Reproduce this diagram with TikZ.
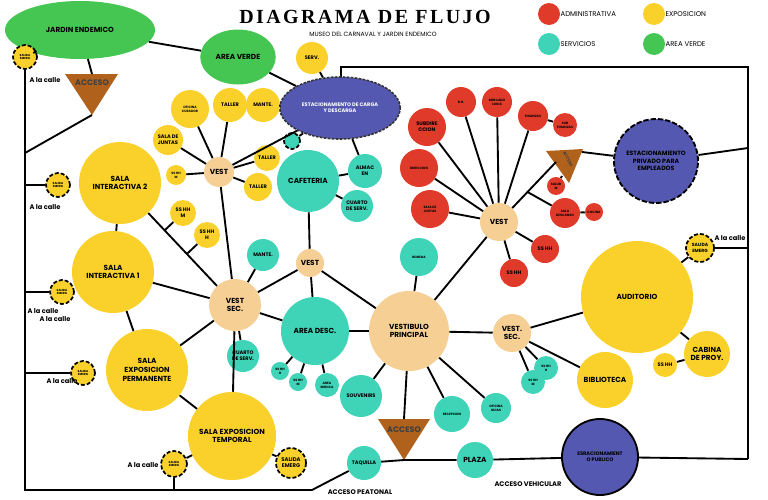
\documentclass[tikz,border=0pt]{standalone}
\usepackage{fontspec}
\setmainfont{Poppins}
\newfontfamily\titlefont[LetterSpace=12]{Liberation Serif}
\usetikzlibrary{shapes.geometric,calc}
\definecolor{cred}{HTML}{E03A2A}
\definecolor{cyel}{HTML}{FAD12A}
\definecolor{cteal}{HTML}{3FD3B8}
\definecolor{cgreen}{HTML}{45C653}
\definecolor{cblue}{HTML}{5558B0}
\definecolor{cpeach}{HTML}{F6CF95}
\definecolor{cbrown}{HTML}{B0611C}
\begin{document}
\begin{tikzpicture}[x=0.75pt,y=-0.75pt,
 b/.style={circle,inner sep=0pt,align=center,font=\fontsize{5.5}{6.5}\selectfont\bfseries,minimum size={#1*0.75pt}},
 R/.style={b=#1,fill=cred},Y/.style={b=#1,fill=cyel},T/.style={b=#1,fill=cteal},
 P/.style={b=#1,fill=cpeach},
 em/.style={b=#1,fill=cyel,draw=black,dash pattern=on 3pt off 1.5pt,line width=1.3pt,font=\fontsize{2.2}{2.6}\selectfont\bfseries},
 s/.style={font=\fontsize{3.8}{4.4}\selectfont\bfseries},
 xs/.style={font=\fontsize{2.4}{2.9}\selectfont\bfseries},
 lab/.style={font=\fontsize{5}{6}\selectfont\bfseries,inner sep=1pt},
 tri/.style={fill=cbrown},
 ln/.style={line width=1.4pt,black},
 every edge/.style={draw,ln}]
\useasboundingbox (0,0) rectangle (768,500);
% title and legend
\node (title) at (365,17) {\titlefont\fontsize{15}{16}\selectfont\bfseries DIAGRAMA DE FLUJO};
\node (subt) at (373,34) {\fontsize{4.6}{5}\selectfont MUSEO DEL CARNAVAL Y JARDIN ENDEMICO};
\node[R=22] (l1) at (549,14) {}; \node[lab,right,font=\fontsize{5.2}{6}\selectfont] (l1t) at (559,14) {ADMINISTRATIVA};
\node[Y=22] (l2) at (654,14) {}; \node[lab,right,font=\fontsize{5.2}{6}\selectfont] (l2t) at (664,14) {EXPOSICION};
\node[T=22] (l3) at (549,44) {}; \node[lab,right,font=\fontsize{5.2}{6}\selectfont] (l3t) at (559,44) {SERVICIOS};
\node[b=22,fill=cgreen] (l4) at (654,44) {}; \node[lab,right,font=\fontsize{5.2}{6}\selectfont] (l4t) at (664,44) {AREA VERDE};
% frame lines
\coordinate (f1) at (341,80); \coordinate (f2) at (341,67); \coordinate (f3) at (748,67);
\coordinate (f4) at (748,459); \coordinate (fp) at (748,148); \coordinate (fe) at (748,248);
\coordinate (g1) at (25,490); \coordinate (g2) at (312,490); \coordinate (g3) at (174,490);
\coordinate (ga) at (25,153); \coordinate (g4) at (25,185); \coordinate (g5) at (25,292); \coordinate (g6) at (25,373);
\draw[ln] (f1) -- (f2) -- (f3) -- (f4);
% nodes top-left
\node[ellipse,fill=cgreen,minimum width=150*0.75pt,minimum height=58*0.75pt,font=\fontsize{5.5}{6.5}\selectfont\bfseries] (jar) at (80,30) {JARDIN ENDEMICO};
\node[ellipse,fill=cgreen,minimum width=72*0.75pt,minimum height=55*0.75pt,font=\fontsize{5.5}{6.5}\selectfont\bfseries] (av) at (238,57) {AREA VERDE};
\node[Y=32,s] (serv) at (312,58) {SERV.};
\node[em=24] (se1) at (25,57) {SALIDA\\EMERG};
\node[lab] (c1) at (45,80) {A la calle};
\path[tri] (65,74) -- (118,74) -- (92,115) -- cycle;
\node[font=\fontsize{6}{7}\selectfont\bfseries,text=black!75] (acc1) at (92,83) {ACCESO};
\coordinate (acc1t) at (92,115); \coordinate (acc1b) at (92,74);
\node[ellipse,fill=cblue,draw=black!80,dash pattern=on 2pt off 1pt,line width=1.2pt,minimum width=100*0.75pt,minimum height=62*0.75pt,align=center,s,text=white] (ec) at (340,108) {ESTACIONAMIENTO DE CARGA\\Y DESCARGA};
\node[Y=38,xs] (ofc) at (190,109) {OFICINA\\CURADOR};
\node[Y=34,s] (ta1) at (230,105) {TALLER};
\node[Y=34,s] (ma1) at (263,105) {MANTE.};
\node[Y=30,s] (sj1) at (168,140) {SALA DE\\JUNTAS};
\node[P=30] (v1) at (219,172) {VEST};
\node[Y=20,xs] (sh0) at (176,175) {SS HH\\M};
\node[Y=26,s] (ta2) at (267,158) {TALLER};
\node[Y=28,s] (ta3) at (258,187) {TALLER};
\node[em=16,fill=cteal] (tq) at (292,141) {};
\node[T=62] (caf) at (308,181) {CAFETERIA};
\node[T=34,s] (alm) at (365,171) {ALMAC\\EN};
\node[T=32,s] (cs1) at (357,206) {CUARTO\\DE SERV.};
\node[Y=82] (si2) at (120,183) {SALA\\INTERACTIVA 2};
\node[em=24] (se2) at (58,185) {SALIDA\\EMERG};
\node[lab] (c2) at (45,207) {A la calle};
\node[Y=26,s] (shm) at (183,213) {SS HH\\M};
\node[Y=26,s] (shh) at (207,235) {SS HH\\H};
\node[Y=82] (si1) at (113,272) {SALA\\INTERACTIVA 1};
\node[em=24] (se3) at (62,292) {SALIDA\\EMERG};
\node[lab] (c3) at (43,311) {A la calle};
\node[lab] (c4) at (55,319) {A la calle};
\node[T=32,s] (ma2) at (263,255) {MANTE.};
\node[P=28] (v2) at (310,263) {VEST};
\node[P=52] (vs1) at (235,305) {VEST\\SEC.};
\node[T=68] (ad) at (315,331) {AREA DESC.};
\node[T=32,s] (cs2) at (243,356) {CUARTO\\DE SERV.};
\node[T=18,xs] (t1) at (280,371) {SS HH\\H};
\node[T=18,xs] (t2) at (298,382) {SS HH\\M};
\node[T=24,xs] (t3) at (327,385) {AREA\\MEDICA};
\node[T=42,s] (sou) at (361,396) {SOUVENIRS};
\node[Y=82] (sep) at (147,370) {SALA\\EXPOSICION\\PERMANENTE};
\node[em=24] (se4) at (83,373) {SALIDA\\EMERG};
\node[lab] (c5) at (62,381) {A la calle};
\node[Y=88] (set) at (232,436) {SALA EXPOSICION\\TEMPORAL};
\node[em=26] (se5) at (174,464) {SALIDA\\EMERG};
\node[lab] (c6) at (143,465) {A la calle};
\node[em=30,font=\fontsize{4}{4.6}\selectfont\bfseries] (se6) at (291,463) {SALIDA\\EMERG};
% center/right
\node[P=80] (vp) at (409,331) {VESTIBULO\\PRINCIPAL};
\node[T=38,xs] (bod) at (419,257) {BODEGA};
\node[T=36,xs] (rec) at (452,414) {RECEPCION};
\node[T=30,xs] (og) at (496,408) {OFICINA\\GUIAS};
\path[tri] (378,419) -- (430,419) -- (404,460) -- cycle;
\node[font=\fontsize{6}{7}\selectfont\bfseries,text=black!75] (acc2) at (404,430) {ACCESO};
\coordinate (acc2t) at (404,419); \coordinate (acc2b) at (404,460);
\node[T=34,s] (taq) at (364,463) {TAQUILLA};
\node[T=36] (pla) at (475,460) {PLAZA};
\node[b=76,fill=cblue,draw=black,line width=1.4pt,s] (ep) at (600,457) {ESRACIONAMIENT\\O PUBLICO};
\node[P=38] (vs2) at (512,333) {VEST.\\SEC.};
\node[T=24,xs] (h2) at (546,368) {SS HH\\H};
\node[T=24,xs] (m2) at (533,382) {SS HH\\M};
\node[Y=56] (bib) at (605,380) {BIBLIOTECA};
\node[Y=112] (aud) at (637,297) {AUDITORIO};
\node[Y=46] (cab) at (707,354) {CABINA\\DE PROY.};
\node[Y=24,s] (sh3) at (665,365) {SS HH};
\node[em=28,font=\fontsize{3.4}{4}\selectfont\bfseries] (se7) at (700,248) {SALIDA\\EMERG};
\node[lab] (c7) at (730,238) {A la calle};
% admin
\node[P=38] (v3) at (499,222) {VEST};
\node[R=38,s] (sub) at (427,127) {SUBDIRE\\CCION};
\node[R=30,xs] (rh) at (461,102) {R.H.};
\node[R=30,xs] (mer) at (497,102) {MERCADO\\LOGIA};
\node[R=30,xs] (fin) at (533,116) {FINANZAS};
\node[R=24,xs] (sfin) at (565,125) {SUB\\FINANZAS};
\node[R=38,xs] (dir) at (419,168) {DIRECCION};
\node[R=38,xs] (sj2) at (430,209) {SALA DE\\JUNTAS};
\node[R=28,s] (r1) at (545,249) {SS HH};
\node[R=28,s] (r2) at (514,273) {SS HH};
\node[R=30,xs] (sd) at (565,213) {SALA\\DESCANSO};
\node[R=18,xs] (coc) at (594,212) {COCINA};
\node[R=18,xs] (sal) at (556,186) {SALUD\\M};
\path[tri] (546,151) -- (583,149) -- (569,183) -- cycle;
\node[rotate=-62,inner sep=0pt,font=\fontsize{3}{3.5}\selectfont\bfseries,text=black!75] (acc3) at (568,159) {ACCESO};
\coordinate (acc3a) at (556,162); \coordinate (acc3r) at (582,152); \coordinate (acc3s) at (562,176);
\node[b=84,fill=cblue,draw=black,dash pattern=on 4pt off 1.5pt,line width=1.4pt,s,font=\fontsize{4.6}{5.6}\selectfont\bfseries] (epr) at (656,161) {ESTACIONAMIENTO\\PRIVADO PARA\\EMPLEADOS};
\node[lab] (ap) at (360,492) {ACCESO PEATONAL};
\node[lab] (avh) at (528,484) {ACCESO VEHICULAR};
% connectors
\coordinate (k1) at ($(v3)!0.5!(acc3a)$);
\coordinate (k2) at ($(si2)!(shm)!(vs1)$);
\coordinate (k3) at ($(si2)!(shh)!(vs1)$);
\draw[ln] (se1) -- (jar);
\draw[ln] (se1) -- (g1) -- (g2) -- (taq);
\draw[ln] (ga) -- (acc1t);
\draw[ln] (jar) -- (acc1b);
\draw[ln] (g4) -- (se2); \draw[ln] (g5) -- (se3); \draw[ln] (g6) -- (se4);
\draw[ln] (g3) -- (se5);
\draw[ln] (epr) -- (fp); \draw[ln] (se7) -- (fe);
\draw[ln] (taq) -- (acc2b) -- (pla) -- (ep) -- (f4);
\path (jar) edge (av) (av) edge (ec) (serv) edge (ec) (ma1) edge (ec) (v1) edge (ec)
 (ec) edge (tq) (ec) edge (alm) (caf) edge (alm) (caf) edge (cs1)
 (v1) edge (ofc) (v1) edge (ta1) (v1) edge (sj1) (v1) edge (sh0) (v1) edge (ta2) (v1) edge (ta3) (v1) edge (vs1)
 (si2) edge (vs1) (k2) edge (shm) (k3) edge (shh) (si2) edge (si1) (si1) edge (vs1) (si1) edge (sep) (sep) edge (vs1)
 (sep) edge (set) (vs1) edge (set) (vs1) edge (ma2) (vs1) edge (cs2) (vs1) edge (v2) (vs1) edge (ad)
 (v2) edge (caf) (v2) edge (ad) (v2) edge (vp) (ad) edge (t1) (ad) edge (t2) (ad) edge (t3) (ad) edge (vp)
 (vp) edge (bod) (vp) edge (sou) (vp) edge (acc2t) (vp) edge (rec) (vp) edge (og) (vp) edge (vs2) (vp) edge (v3)
 (v3) edge (sub) (v3) edge (rh) (v3) edge (mer) (v3) edge (fin) (v3) edge (dir) (v3) edge (sj2) (v3) edge (r1) (v3) edge (r2)
 (v3) edge (acc3a) (k1) edge (sd) (sd) edge (coc) (sal) edge (acc3s) (fin) edge (sfin) (acc3r) edge (epr)
 (vs2) edge (aud) (vs2) edge (bib) (vs2) edge (h2) (vs2) edge (m2) (aud) edge (cab) (aud) edge (se7) (cab) edge (sh3)
 (set) edge (se5) (set) edge (se6);
\end{tikzpicture}
\end{document}
